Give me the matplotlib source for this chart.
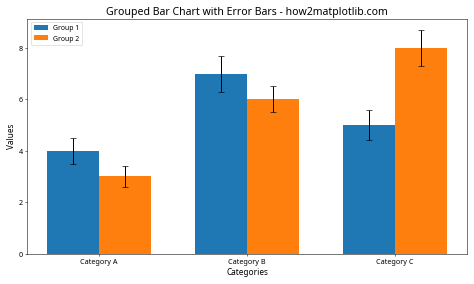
import matplotlib
matplotlib.use('Agg')
import numpy as np
import matplotlib.pyplot as plt

plt.rcParams['font.family'] = ['Noto Sans', 'DejaVu Sans']

# data
categories = ['Category A', 'Category B', 'Category C']
group1 = [4, 7, 5]
group2 = [3, 6, 8]
err1 = [0.5, 0.7, 0.6]
err2 = [0.4, 0.5, 0.7]

x = np.arange(len(categories))
width = 0.35

fig, ax = plt.subplots(figsize=(10, 6), dpi=47.4)

ax.bar(x - width / 2, group1, width, yerr=err1, capsize=5, label='Group 1')
ax.bar(x + width / 2, group2, width, yerr=err2, capsize=5, label='Group 2')

ax.set_xticks(x)
ax.set_xticklabels(categories, fontsize=11)
ax.tick_params(axis='y', labelsize=11)
ax.set_xlabel('Categories', fontsize=12.5)
ax.set_ylabel('Values', fontsize=12.5)
ax.set_title('Grouped Bar Chart with Error Bars - how2matplotlib.com', fontsize=16)
ax.legend(loc='upper left', fontsize=10.5)

plt.tight_layout()
plt.savefig('out.png', dpi=47.4)
